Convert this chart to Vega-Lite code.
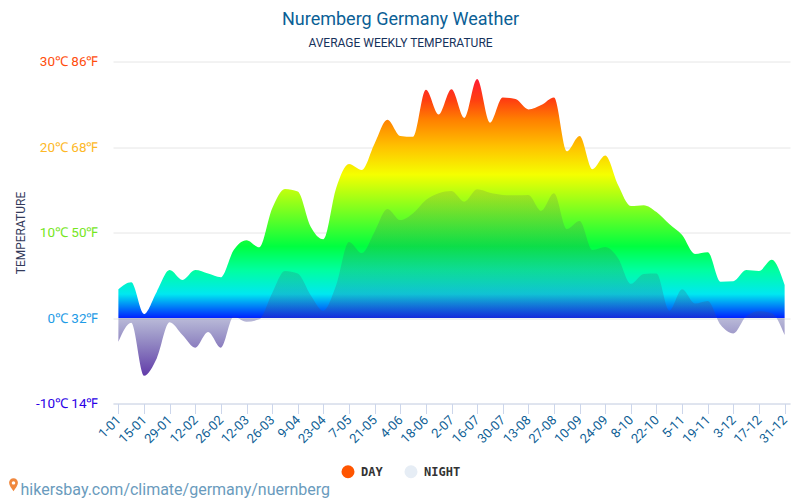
{
  "$schema": "https://vega.github.io/schema/vega-lite/v6.json",
  "autosize": {"type": "none"},
  "padding": {"left": 113, "top": 61.5, "right": 10, "bottom": 96.5},
  "width": 677,
  "height": 342,
  "background": "#ffffff",
  "view": {"stroke": null},
  "title": {
    "text": "Nuremberg Germany Weather",
    "subtitle": "AVERAGE WEEKLY TEMPERATURE",
    "font": "Roboto",
    "fontSize": 18,
    "fontWeight": "normal",
    "color": "#0b5f96",
    "subtitleFont": "Roboto",
    "subtitleFontSize": 12,
    "subtitleColor": "#16325c",
    "subtitlePadding": 9,
    "anchor": "middle",
    "frame": "group",
    "dx": -51,
    "offset": 6
  },
  "datasets": {
    "weekly": [
      {"week": "1-01", "day": 3.36, "night": -2.77},
      {"week": "8-01", "day": 4.17, "night": -0.55},
      {"week": "15-01", "day": 0.47, "night": -6.75},
      {"week": "22-01", "day": 3.08, "night": -4.7},
      {"week": "29-01", "day": 5.6, "night": -0.5},
      {"week": "5-02", "day": 4.45, "night": -2.0},
      {"week": "12-02", "day": 5.6, "night": -3.47},
      {"week": "19-02", "day": 5.2, "night": -1.64},
      {"week": "26-02", "day": 4.76, "night": -3.47},
      {"week": "5-03", "day": 7.95, "night": 0.15},
      {"week": "12-03", "day": 9.1, "night": -0.43},
      {"week": "19-03", "day": 8.27, "night": -0.16},
      {"week": "26-03", "day": 12.8, "night": 2.9},
      {"week": "2-04", "day": 15.1, "night": 5.5},
      {"week": "9-04", "day": 14.8, "night": 5.2},
      {"week": "16-04", "day": 10.7, "night": 2.7},
      {"week": "23-04", "day": 9.2, "night": 0.85},
      {"week": "30-04", "day": 15.2, "night": 3.85},
      {"week": "7-05", "day": 18.0, "night": 8.9},
      {"week": "14-05", "day": 17.3, "night": 7.6},
      {"week": "21-05", "day": 20.4, "night": 10.1},
      {"week": "28-05", "day": 23.2, "night": 12.75},
      {"week": "4-06", "day": 21.3, "night": 11.45},
      {"week": "11-06", "day": 21.2, "night": 12.25},
      {"week": "18-06", "day": 26.7, "night": 13.8},
      {"week": "25-06", "day": 23.8, "night": 14.6},
      {"week": "2-07", "day": 26.75, "night": 14.85},
      {"week": "9-07", "day": 23.4, "night": 13.6},
      {"week": "16-07", "day": 27.95, "night": 15.05},
      {"week": "23-07", "day": 22.85, "night": 14.65},
      {"week": "30-07", "day": 25.8, "night": 14.4},
      {"week": "6-08", "day": 25.6, "night": 14.35},
      {"week": "13-08", "day": 24.4, "night": 14.4},
      {"week": "20-08", "day": 24.9, "night": 12.55},
      {"week": "27-08", "day": 25.8, "night": 14.6},
      {"week": "3-09", "day": 19.5, "night": 10.4},
      {"week": "10-09", "day": 21.3, "night": 11.35},
      {"week": "17-09", "day": 17.4, "night": 7.95},
      {"week": "24-09", "day": 19.0, "night": 8.3},
      {"week": "1-10", "day": 15.55, "night": 7.0},
      {"week": "8-10", "day": 13.1, "night": 4.0},
      {"week": "15-10", "day": 13.2, "night": 5.15},
      {"week": "22-10", "day": 12.4, "night": 5.2},
      {"week": "29-10", "day": 11.0, "night": 0.85},
      {"week": "5-11", "day": 9.7, "night": 3.35},
      {"week": "12-11", "day": 7.5, "night": 1.7},
      {"week": "19-11", "day": 7.7, "night": 2.0},
      {"week": "26-11", "day": 4.25, "night": -0.8},
      {"week": "3-12", "day": 4.3, "night": -1.8},
      {"week": "10-12", "day": 5.6, "night": 0.2},
      {"week": "17-12", "day": 5.5, "night": 0.8},
      {"week": "24-12", "day": 6.8, "night": 0.55},
      {"week": "31-12", "day": 3.85, "night": -2.0}
    ],
    "series": [
      {"week": "1-01", "series": "DAY", "value": 0},
      {"week": "1-01", "series": "NIGHT", "value": 0}
    ],
    "source": [
      {"week": "1-01", "value": 0, "site": "pin"}
    ]
  },
  "data": {"name": "weekly"},
  "encoding": {
    "x": {
      "field": "week",
      "type": "ordinal",
      "sort": null,
      "scale": {"type": "point", "padding": 0.42},
      "axis": {
        "values": ["1-01", "15-01", "29-01", "12-02", "26-02", "12-03", "26-03", "9-04", "23-04", "7-05", "21-05", "4-06", "18-06", "2-07", "16-07", "30-07", "13-08", "27-08", "10-09", "24-09", "8-10", "22-10", "5-11", "19-11", "3-12", "17-12", "31-12"],
        "title": "hikersbay.com/climate/germany/nuernberg",
        "titleFont": "Roboto",
        "titleFontSize": 16,
        "titleFontWeight": "normal",
        "titleColor": "#6a9bbd",
        "titleAnchor": "start",
        "titleAlign": "left",
        "titleBaseline": "alphabetic",
        "titleX": -93,
        "titleY": 91,
        "labelFont": "Roboto",
        "labelFontSize": 13,
        "labelColor": "#0f5f96",
        "labelAngle": -45,
        "labelAlign": "right",
        "labelBaseline": "middle",
        "labelPadding": 4,
        "labelOverlap": false,
        "domainColor": "#ccd6eb",
        "tickColor": "#ccd6eb",
        "tickSize": 10,
        "grid": false
      }
    }
  },
  "layer": [
    {
      "mark": {
        "type": "area",
        "interpolate": "monotone",
        "fill": {
          "gradient": "linear",
          "x1": 0, "y1": 0, "x2": 0, "y2": 1,
          "stops": [
            {"offset": 0, "color": "#ff1a33"},
            {"offset": 0.09, "color": "#ff4010"},
            {"offset": 0.17, "color": "#ff8000"},
            {"offset": 0.28, "color": "#ffc000"},
            {"offset": 0.4, "color": "#f5ff00"},
            {"offset": 0.7, "color": "#00ff40"},
            {"offset": 0.8, "color": "#00ffa0"},
            {"offset": 0.9, "color": "#00e8f0"},
            {"offset": 1, "color": "#0020ff"}
          ]
        }
      },
      "encoding": {
        "y": {
          "field": "day",
          "type": "quantitative",
          "scale": {"domain": [-10, 30]},
          "axis": {
            "values": [-10, 0, 10, 20, 30],
            "labelExpr": "datum.value + '℃ ' + (datum.value * 1.8 + 32) + '℉'",
            "labelFont": "Roboto",
            "labelFontSize": 13.5,
            "labelPadding": 15,
            "labelColor": {
              "condition": [
                {"test": "datum.value == 30", "value": "#ff4d0d"},
                {"test": "datum.value == 20", "value": "#fdb827"},
                {"test": "datum.value == 10", "value": "#76e61e"},
                {"test": "datum.value == 0", "value": "#1e9be6"}
              ],
              "value": "#2a00e6"
            },
            "ticks": false,
            "domain": false,
            "grid": true,
            "gridColor": "#e6e6e6",
            "title": "TEMPERATURE",
            "titleFont": "Roboto",
            "titleFontSize": 12,
            "titleFontWeight": "normal",
            "titleColor": "#333a5a",
            "titleX": -86,
            "titleY": 171,
            "titleAngle": -90,
            "titleAlign": "center"
          }
        }
      }
    },
    {
      "mark": {
        "type": "area",
        "interpolate": "monotone",
        "fill": {
          "gradient": "linear",
          "x1": 0, "y1": 0, "x2": 0, "y2": 1,
          "stops": [
            {"offset": 0, "color": "rgba(70,70,110,0.15)"},
            {"offset": 0.5, "color": "rgba(70,70,110,0.2)"},
            {"offset": 0.69, "color": "rgba(70,70,140,0.3)"},
            {"offset": 0.7, "color": "rgba(74,74,154,0.4)"},
            {"offset": 1, "color": "rgba(90,48,165,0.95)"}
          ]
        }
      },
      "encoding": {
        "y": {"field": "night", "type": "quantitative"}
      }
    },
    {
      "data": {"name": "series"},
      "mark": {"type": "point", "filled": true, "opacity": 0},
      "encoding": {
        "y": {"field": "value", "type": "quantitative"},
        "color": {
          "field": "series",
          "type": "nominal",
          "scale": {"domain": ["DAY", "NIGHT"], "range": ["#ff5500", "#e6edf5"]},
          "legend": {
            "title": null,
            "orient": "none",
            "legendX": 228,
            "legendY": 403,
            "direction": "horizontal",
            "columns": 2,
            "columnPadding": 21,
            "symbolType": "circle",
            "symbolSize": 170,
            "symbolOpacity": 1,
            "symbolStrokeWidth": 0,
            "labelFont": "DejaVu Sans Mono",
            "labelFontSize": 12,
            "labelFontWeight": "bold",
            "labelColor": "#333333",
            "labelOffset": 6
          }
        }
      }
    },
    {
      "data": {"name": "source"},
      "mark": {"type": "point", "filled": true, "opacity": 0, "color": "#f0883e"},
      "encoding": {
        "y": {"field": "value", "type": "quantitative"},
        "shape": {
          "field": "site",
          "type": "nominal",
          "scale": {
            "domain": ["pin"],
            "range": ["M0,1C-0.3,0.5-0.7,0.1-0.7,-0.35A0.7,0.7 0 1,1 0.7,-0.35C0.7,0.1 0.3,0.5 0,1ZM0,-0.6A0.27,0.27 0 1,0 0,-0.06A0.27,0.27 0 1,0 0,-0.6Z"]
          },
          "legend": {
            "title": null,
            "orient": "none",
            "legendX": -106,
            "legendY": 417,
            "symbolSize": 160,
            "symbolOpacity": 1,
            "symbolFillColor": "#f0883e",
            "symbolStrokeColor": "#f0883e",
            "symbolStrokeWidth": 0,
            "labelExpr": "''"
          }
        }
      }
    }
  ]
}
